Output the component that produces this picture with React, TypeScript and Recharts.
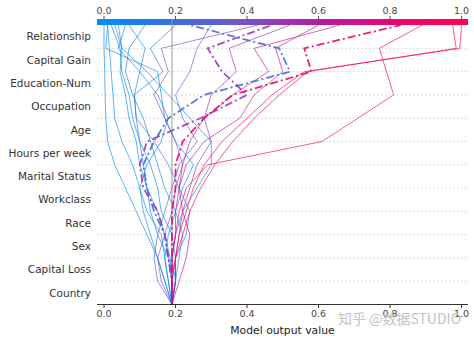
import React from 'react';
import { LineChart, Line, XAxis, YAxis, ReferenceLine, ReferenceArea } from 'recharts';

// Feature names, top to bottom
const featureNames = [
  'Relationship', 'Capital Gain', 'Education-Num', 'Occupation', 'Age', 'Hours per week',
  'Marital Status', 'Workclass', 'Race', 'Sex', 'Capital Loss', 'Country',
];
// Row boundaries (0 = bottom / base value, 12 = top / final output)
const levels = [0, 1, 2, 3, 4, 5, 6, 7, 8, 9, 10, 11, 12];
const xTicks = [0, 0.2, 0.4, 0.6, 0.8, 1.0];
const labelTicks = [0.5, 1.5, 2.5, 3.5, 4.5, 5.5, 6.5, 7.5, 8.5, 9.5, 10.5, 11.5];
const gridLevels = [1, 2, 3, 4, 5, 6, 7, 8, 9, 10, 11];
const baseValue = 0.19;

// Cumulative model output per observation, from bottom (Country) to top (Relationship)
const lineA = [0.19, 0.17, 0.15, 0.12, 0.09, 0.06, 0.03, 0.01, 0.005, 0.003, 0.002, 0.0, 0.0];
const lineB = [0.19, 0.18, 0.17, 0.16, 0.12, 0.10, 0.08, 0.05, 0.03, 0.025, 0.02, 0.015, 0.01];
const lineC = [0.19, 0.19, 0.18, 0.15, 0.13, 0.12, 0.10, 0.09, 0.07, 0.06, 0.045, 0.05, 0.04];
const lineD = [0.19, 0.20, 0.20, 0.19, 0.16, 0.15, 0.13, 0.10, 0.08, 0.07, 0.05, 0.045, 0.02];
const lineE = [0.19, 0.19, 0.185, 0.17, 0.15, 0.12, 0.11, 0.10, 0.09, 0.085, 0.10, 0.115, 0.07];
const lineF = [0.19, 0.20, 0.21, 0.22, 0.20, 0.17, 0.15, 0.13, 0.11, 0.08, 0.06, 0.07, 0.115];
const lineG = [0.19, 0.20, 0.20, 0.23, 0.24, 0.21, 0.18, 0.14, 0.09, 0.085, 0.165, 0.13, 0.20];
const lineH = [0.19, 0.18, 0.17, 0.18, 0.20, 0.22, 0.25, 0.20, 0.17, 0.16, 0.15, 0.005, 0.01];
const lineI = [0.19, 0.17, 0.15, 0.13, 0.11, 0.10, 0.12, 0.16, 0.18, 0.15, 0.10, 0.04, 0.06];
const lineJ = [0.19, 0.20, 0.19, 0.20, 0.22, 0.26, 0.30, 0.30, 0.24, 0.18, 0.12, 0.05, 0.03];
const lineK = [0.19, 0.16, 0.15, 0.17, 0.19, 0.20, 0.22, 0.20, 0.17, 0.14, 0.18, 0.16, 0.43];
const lineL = [0.19, 0.19, 0.20, 0.21, 0.22, 0.24, 0.26, 0.30, 0.28, 0.30, 0.37, 0.35, 0.52];
const lineM = [0.19, 0.19, 0.19, 0.20, 0.20, 0.21, 0.22, 0.24, 0.28, 0.36, 0.46, 0.42, 0.66];
const lineN = [0.19, 0.21, 0.23, 0.24, 0.22, 0.21, 0.23, 0.28, 0.38, 0.42, 0.50, 0.48, 0.60];
const lineR = [0.19, 0.15, 0.14, 0.15, 0.17, 0.19, 0.21, 0.26, 0.22, 0.20, 0.24, 0.26, 0.30];
const lineO = [0.19, 0.19, 0.19, 0.20, 0.21, 0.23, 0.29, 0.61, 0.71, 0.81, 0.79, 0.77, 0.89];
const lineP = [0.19, 0.20, 0.20, 0.21, 0.23, 0.25, 0.28, 0.33, 0.40, 0.47, 0.56, 0.995, 1.0];
const lineQ = [0.19, 0.19, 0.20, 0.22, 0.24, 0.27, 0.31, 0.36, 0.42, 0.49, 0.57, 0.985, 0.975];
// Highlighted (dash-dot) observations
const hlBlue = [0.19, 0.19, 0.18, 0.17, 0.14, 0.12, 0.11, 0.14, 0.18, 0.28, 0.52, 0.49, 0.24];
const hlPurple = [0.19, 0.19, 0.18, 0.17, 0.15, 0.11, 0.10, 0.12, 0.27, 0.40, 0.33, 0.29, 0.47];
const hlRed = [0.19, 0.19, 0.19, 0.19, 0.19, 0.20, 0.20, 0.22, 0.28, 0.36, 0.58, 0.56, 0.83];

const series = [
  { values: lineA, hl: false }, { values: lineB, hl: false }, { values: lineC, hl: false },
  { values: lineD, hl: false }, { values: lineE, hl: false }, { values: lineF, hl: false },
  { values: lineG, hl: false }, { values: lineH, hl: false }, { values: lineI, hl: false },
  { values: lineJ, hl: false }, { values: lineK, hl: false }, { values: lineR, hl: false },
  { values: lineL, hl: false }, { values: lineM, hl: false }, { values: lineN, hl: false },
  { values: lineO, hl: false }, { values: lineP, hl: false }, { values: lineQ, hl: false },
  { values: hlBlue, hl: true }, { values: hlPurple, hl: true }, { values: hlRed, hl: true },
];

const data = levels.map((pos, i) => {
  const row: Record<string, number> = { pos };
  series.forEach((s, j) => { row[`s${j}`] = s.values[i]; });
  return row;
});

const X_MIN = -0.0196;
const X_MAX = 1.018;

const cmapStops: [number, number[]][] = [
  [0, [0, 139, 251]],
  [0.2, [58, 112, 222]],
  [0.4, [122, 80, 200]],
  [0.6, [180, 28, 160]],
  [0.8, [228, 8, 118]],
  [1, [255, 0, 82]],
];
function cmap(v: number): string {
  const t = Math.max(0, Math.min(1, v));
  for (let i = 1; i < cmapStops.length; i++) {
    const [t1, c1] = cmapStops[i];
    const [t0, c0] = cmapStops[i - 1];
    if (t <= t1) {
      const f = (t - t0) / (t1 - t0);
      const c = c0.map((a, k) => Math.round(a + (c1[k] - a) * f));
      return `rgb(${c[0]},${c[1]},${c[2]})`;
    }
  }
  return 'rgb(255,0,82)';
}

const font = 'DejaVu Sans, sans-serif';

function FeatureTick(props: any) {
  const { x, y, payload } = props;
  const name = featureNames[11 - Math.floor(payload.value)];
  return (
    <text x={x} y={y} dy="0.35em" textAnchor="end" fill="#333" fontSize={10.5} fontFamily={font}>
      {name}
    </text>
  );
}

export default function App() {
  return (
    <div style={{ position: 'absolute', left: 0, top: 0, width: 474, height: 338, background: '#fff' }}>
      <LineChart width={474} height={338} layout="vertical" data={data}
        margin={{ top: 0, right: 6, bottom: 0, left: 0 }}>
        <defs>
          <linearGradient id="cbar" x1="0" y1="0" x2="1" y2="0">
            {cmapStops.map(([t, c]) => (
              <stop key={t} offset={(t - X_MIN) / (X_MAX - X_MIN)} stopColor={`rgb(${c[0]},${c[1]},${c[2]})`} />
            ))}
          </linearGradient>
        </defs>
        <XAxis type="number" domain={[X_MIN, X_MAX]} allowDataOverflow ticks={xTicks}
          tickFormatter={(v: number) => v.toFixed(1)} height={33.5}
          axisLine={{ stroke: '#333', strokeWidth: 1 }} tickLine={{ stroke: '#333' }} tickSize={3.5} tickMargin={2}
          tick={{ fill: '#444', fontSize: 9.5, fontFamily: font }}
          label={{ value: 'Model output value', position: 'insideBottom', offset: 4, fill: '#222', fontSize: 10.8, fontFamily: font }} />
        <XAxis xAxisId="top" orientation="top" type="number" domain={[X_MIN, X_MAX]} allowDataOverflow ticks={xTicks}
          tickFormatter={(v: number) => v.toFixed(1)} height={19}
          axisLine={false} tickLine={{ stroke: '#555' }} tickSize={3} tickMargin={2}
          tick={{ fill: '#444', fontSize: 9.5, fontFamily: font }} />
        <YAxis type="number" dataKey="pos" domain={[0, 12.26]} allowDataOverflow reversed ticks={labelTicks} interval={0}
          width={97} axisLine={false} tickLine={false} tickSize={0} tickMargin={6}
          tick={<FeatureTick />} />
        {gridLevels.map((g) => (
          <ReferenceLine key={g} y={g} stroke="#cfcfcf" strokeDasharray="1.5 2.5" strokeWidth={1} />
        ))}
        <ReferenceLine x={baseValue} stroke="#999" strokeWidth={1} />
        {series.map((s, j) => {
          const final = s.values[s.values.length - 1];
          return (
            <Line key={j} dataKey={`s${j}`} type="linear" dot={false} activeDot={false}
              isAnimationActive={false}
              stroke={cmap(final)} strokeOpacity={s.hl ? 0.9 : 0.65}
              strokeWidth={s.hl ? 1.8 : 1}
              strokeDasharray={s.hl ? '8 3 2 3' : undefined} />
          );
        })}
        <ReferenceArea x1={X_MIN} x2={X_MAX} y1={12} y2={12.26} fill="url(#cbar)" fillOpacity={1} stroke="none" ifOverflow="visible" />
      </LineChart>
      <div style={{ position: 'absolute', left: 338, top: 308, fontSize: 14, color: '#c4c4c4',
        fontFamily: '"Noto Sans CJK SC", sans-serif', whiteSpace: 'nowrap', letterSpacing: 0 }}>
        知乎 @数据STUDIO
      </div>
    </div>
  );
}
